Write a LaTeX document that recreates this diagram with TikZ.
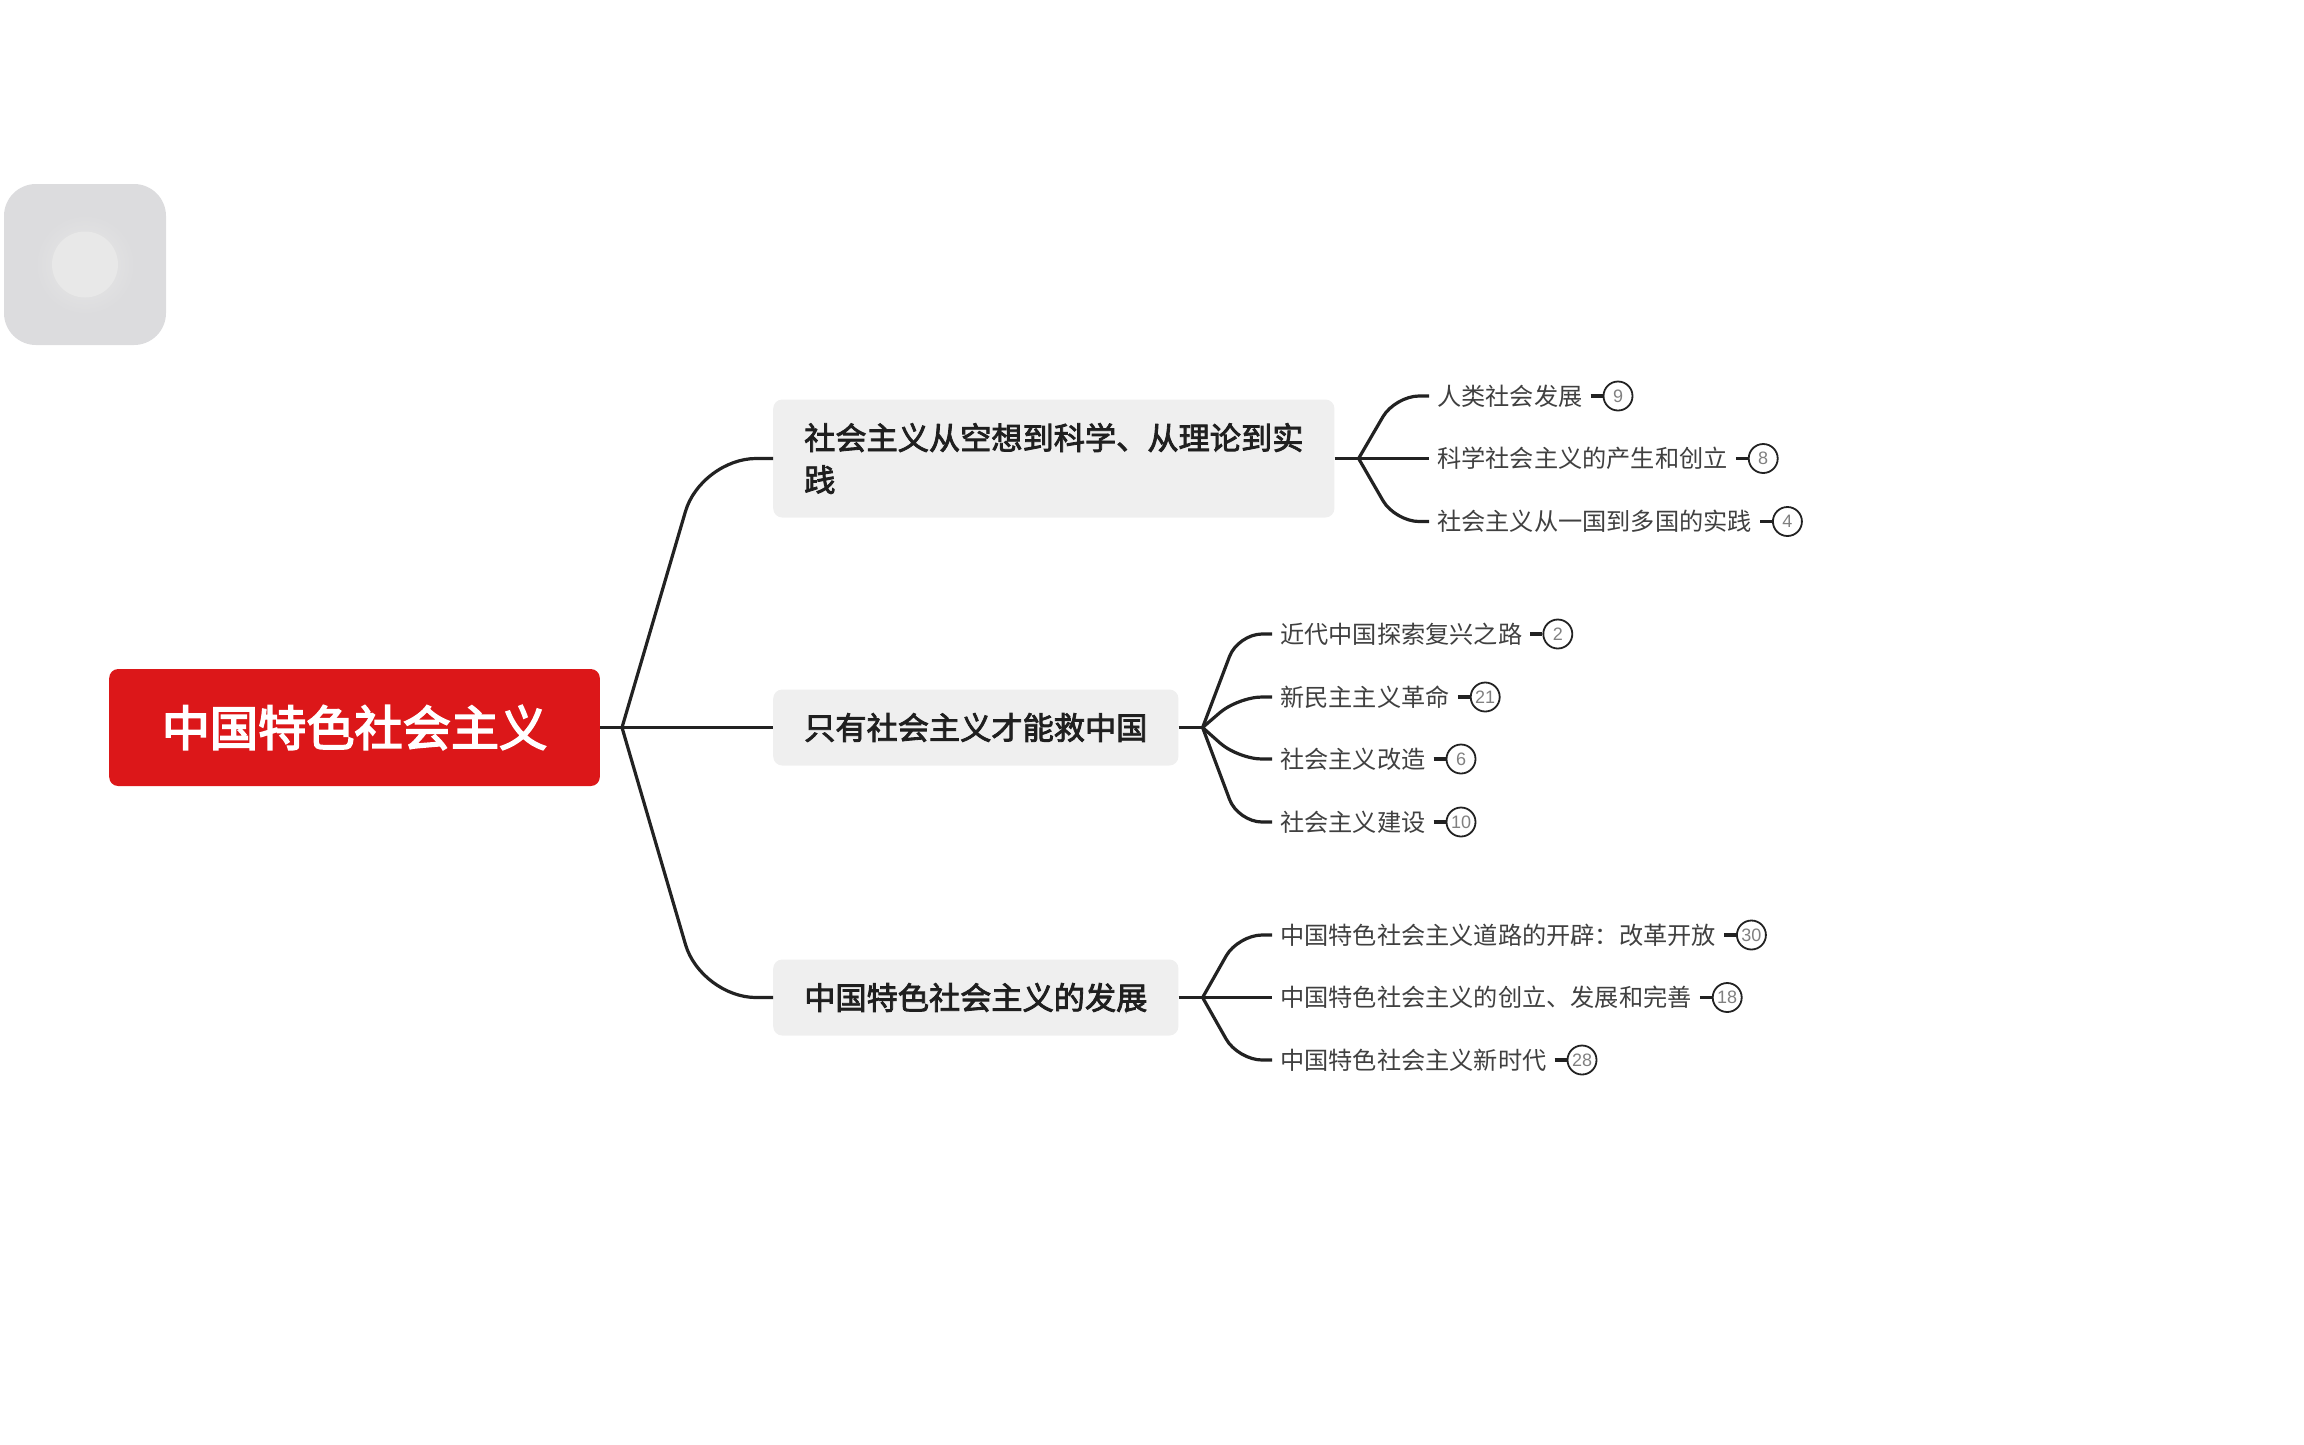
\documentclass[tikz,border=0pt]{standalone}
\usepackage{fontspec}
\setmainfont{Noto Sans CJK SC}
\setsansfont{Liberation Sans}
\newfontfamily\rootfont[FakeBold=3.4]{Noto Sans CJK SC}
\newfontfamily\branchfont[FakeBold=2.6]{Noto Sans CJK SC}
\usetikzlibrary{positioning}
\definecolor{rootred}{HTML}{DC1719}
\definecolor{branchgray}{HTML}{EFEFEF}
\definecolor{linedark}{HTML}{222222}
\definecolor{leaftext}{HTML}{404040}
\definecolor{numtext}{HTML}{808080}
\definecolor{logofill}{HTML}{DCDCDE}
\definecolor{logocore}{HTML}{E8E8E8}
\tikzset{
  rootbox/.style={fill=rootred, text=white, rounded corners=9pt, inner xsep=52.5pt, inner ysep=0pt,
    minimum height=117pt, font=\rootfont\fontsize{48.2}{58}\selectfont, anchor=west},
  branchbox/.style={fill=branchgray, text=black!88, rounded corners=9pt, inner xsep=31pt, inner ysep=0pt,
    minimum height=76pt, align=left, font=\branchfont\fontsize{31.2}{42}\selectfont, anchor=west},
  leaf/.style={text=leaftext, inner xsep=8pt, inner ysep=0pt, font=\fontsize{24.2}{30}\selectfont, anchor=west},
  num/.style={circle, draw=linedark, line width=1.8pt, text=numtext, inner sep=0pt, minimum size=29pt,
    font=\sffamily\fontsize{18}{18}\selectfont},
  link/.style={draw=linedark, line width=3.2pt},
  curvelink/.style={link, rounded corners=24pt}
}
\begin{document}
\begin{tikzpicture}[x=1pt,y=-1pt]
  \useasboundingbox (0,0) rectangle (2304,1444);
  \node[fill=logofill, rounded corners=32pt, minimum width=162pt, minimum height=161pt] (logo) at (85,264.5) {};
  \node[circle, minimum size=100pt, inner color=logocore, outer color=logofill] (halo) at (logo.center) {};
  \node[circle, fill=logocore, minimum size=66pt] (core) at (logo.center) {};

  \node[rootbox] (root) at (109,727.5) {中国特色社会主义};
  \node[branchbox, minimum height=118pt] (branchA) at (773,458.5) {社会主义从空想到科学、从理论到实\\践};
  \node[branchbox] (branchB) at (773,727.5) {只有社会主义才能救中国};
  \node[branchbox] (branchC) at (773,997.5) {中国特色社会主义的发展};

  \coordinate[right=22pt of root] (forkroot);
  \coordinate[right=24pt of branchA] (forkA);
  \coordinate[right=24pt of branchB] (forkB);
  \coordinate[right=24pt of branchC] (forkC);

  \node[leaf] (leaf1) at (1429,396) {人类社会发展};
  \node[leaf] (leaf2) at (1429,458.5) {科学社会主义的产生和创立};
  \node[leaf] (leaf3) at (1429,521.5) {社会主义从一国到多国的实践};
  \node[leaf] (leaf4) at (1272,634) {近代中国探索复兴之路};
  \node[leaf] (leaf5) at (1272,697) {新民主主义革命};
  \node[leaf] (leaf6) at (1272,759) {社会主义改造};
  \node[leaf] (leaf7) at (1272,822) {社会主义建设};
  \node[leaf] (leaf8) at (1272,935) {中国特色社会主义道路的开辟：改革开放};
  \node[leaf] (leaf9) at (1272,997.5) {中国特色社会主义的创立、发展和完善};
  \node[leaf] (leaf10) at (1272,1060) {中国特色社会主义新时代};

  \node[num, right=12pt of leaf1] (num1) {9};
  \node[num, right=12pt of leaf2] (num2) {8};
  \node[num, right=12pt of leaf3] (num3) {4};
  \node[num, right=12pt of leaf4] (num4) {2};
  \node[num, right=12pt of leaf5] (num5) {21};
  \node[num, right=12pt of leaf6] (num6) {6};
  \node[num, right=12pt of leaf7] (num7) {10};
  \node[num, right=12pt of leaf8] (num8) {30};
  \node[num, right=12pt of leaf9] (num9) {18};
  \node[num, right=12pt of leaf10] (num10) {28};

  \draw[link] (root.east) -- (forkroot) -- (branchB.west);
  \draw[link, rounded corners=55pt] (forkroot) -- ([xshift=-72pt]branchA.west) -- (branchA.west);
  \draw[link, rounded corners=55pt] (forkroot) -- ([xshift=-72pt]branchC.west) -- (branchC.west);

  \draw[link] (branchA.east) -- (leaf2.west);
  \draw[curvelink] (forkA) -- ([xshift=-34pt]leaf1.west) -- (leaf1.west);
  \draw[curvelink] (forkA) -- ([xshift=-34pt]leaf3.west) -- (leaf3.west);

  \draw[link] (branchB.east) -- (forkB);
  \foreach \i in {4,...,7}
    \draw[curvelink] (forkB) -- ([xshift=-34pt]leaf\i.west) -- (leaf\i.west);

  \draw[link] (branchC.east) -- (leaf9.west);
  \draw[curvelink] (forkC) -- ([xshift=-34pt]leaf8.west) -- (leaf8.west);
  \draw[curvelink] (forkC) -- ([xshift=-34pt]leaf10.west) -- (leaf10.west);

  \foreach \i in {1,...,10}
    \draw[link] (leaf\i.east) -- (num\i.west);
\end{tikzpicture}
\end{document}
